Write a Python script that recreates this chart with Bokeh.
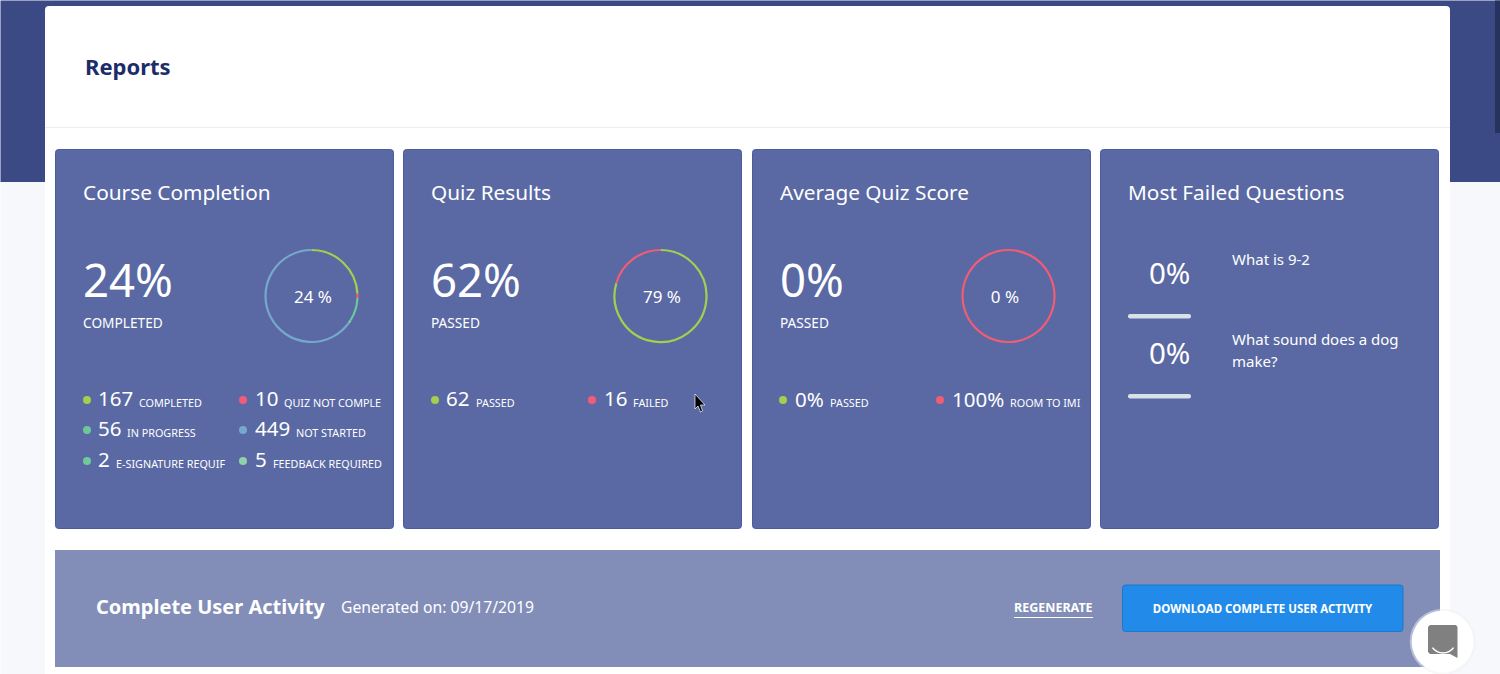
from math import pi

from bokeh.core.properties import value
from bokeh.embed import file_html
from bokeh.models import Range1d
from bokeh.plotting import figure
from bokeh.resources import INLINE

# data
card_titles = ["Course Completion", "Quiz Results", "Average Quiz Score", "Most Failed Questions"]
big_values = ["24%", "62%", "0%"]
big_captions = ["COMPLETED", "PASSED", "PASSED"]
ring_labels = ["24 %", "79 %", "0 %"]

course_counts = [167, 10, 56, 2, 5, 449]
course_names = ["COMPLETED", "QUIZ NOT COMPLE", "IN PROGRESS", "E-SIGNATURE REQUIF", "FEEDBACK REQUIRED", "NOT STARTED"]
quiz_counts = [62, 16]
quiz_names = ["PASSED", "FAILED"]
score_counts = [0, 100]
score_names = ["PASSED", "ROOM TO IMI"]

failed_values = ["0%", "0%"]
failed_questions = [["What is 9-2"], ["What sound does a dog", "make?"]]

# colours
GREEN, RED, TEAL, TEAL2, MINT, BLUE = "#a2d04e", "#f25c75", "#6cc79a", "#70c99c", "#8dd2a9", "#75a9cc"
course_colors = [GREEN, RED, TEAL, TEAL2, MINT, BLUE]
result_colors = [GREEN, RED]
CARD, CARD_EDGE = "#5a69a3", "#4a5ba0"
TXT = "#ffffff"
FONT = value("Noto Sans")

# page pixels are used as plot units, y is flipped by Y()
H = 674
def Y(py):
    return H - py

p = figure(
    width=1500, height=674, x_range=Range1d(0.5, 1500.5), y_range=Range1d(-0.5, H - 0.5),
    output_backend="svg", toolbar_location=None, min_border=0, outline_line_color=None,
    background_fill_color="#f7f8fb", border_fill_color=None,
)
p.axis.visible = False
p.grid.visible = False


def label(x, y, txt, size, color=TXT, style="normal", align="left"):
    # middle baseline lands about 1px low for this font
    p.text([x], [Y(y - 1)], text=[txt], text_font=FONT, text_font_size=f"{size}px", text_color=color,
           text_font_style=style, text_align=align, text_baseline="middle")


def box(x0, x1, y0, y1, fill, edge=None, radius=0):
    p.quad(left=[x0], right=[x1], top=[Y(y0)], bottom=[Y(y1)], fill_color=fill,
           line_color=edge, border_radius=radius)


def ring(cx, values, colors):
    total = sum(values)
    start = pi / 2
    for v, c in zip(values, colors):
        if v == 0:
            continue
        # a full turn would collapse to nothing, so stop just short of it
        end = start - min(2 * pi * v / total, 2 * pi - 0.001)
        p.arc([cx], [Y(296)], radius=46, start_angle=start, end_angle=end, direction="clock",
              line_color=c, line_width=2.2)
        start = end


def legend_entry(dot_x, val_x, txt_x, y, val, name, color):
    p.scatter([dot_x], [Y(y)], size=8, marker="circle", fill_color=color, line_color=None)
    label(val_x, y, val, 20.5)
    label(txt_x, y + 3, name, 10.8)


# page background
box(0, 1502, -2, 182, "#3b4a84")
box(1495, 1502, -2, 133, "#26335f")
box(45, 1450, 6, 690, "#ffffff", None, 4)
p.line([45, 1450], [Y(127.5), Y(127.5)], line_color="#eceef2", line_width=1)
label(85, 67, "Reports", 22, color="#1b2c6b", style="bold")

# cards
card_left = [55, 403, 752, 1100]
for x0, title in zip(card_left, card_titles):
    box(x0 + 0.5, x0 + 338.5, 149.5, 528.5, CARD, CARD_EDGE, 3)
    label(x0 + 28, 192.5, title, 20.8)

for x0, v, cap in zip(card_left, big_values, big_captions):
    label(x0 + 28, 280, v, 45.5)
    label(x0 + 28, 323, cap, 13.7)

ring(311.5, course_counts, course_colors)
ring(660.5, quiz_counts, result_colors)
ring(1008.5, score_counts, result_colors)
for cx, txt in zip([313, 662, 1005], ring_labels):
    label(cx, 297, txt, 17, align="center")

# legends
course_order = [0, 2, 3, 1, 5, 4]
course_dots = [(87, 98, 139, 400), (87, 98, 127, 430), (87, 98, 116, 461),
               (243, 255, 284, 400), (243, 255, 296, 430), (243, 255, 273, 461)]
for i, (dx, vx, tx, y) in zip(course_order, course_dots):
    legend_entry(dx, vx, tx, y, str(course_counts[i]), course_names[i], course_colors[i])

legend_entry(435, 446, 476, 400, str(quiz_counts[0]), quiz_names[0], GREEN)
legend_entry(592, 604, 633, 400, str(quiz_counts[1]), quiz_names[1], RED)
legend_entry(783, 795, 830, 400, f"{score_counts[0]}%", score_names[0], GREEN)
legend_entry(940, 952, 1010, 400, f"{score_counts[1]}%", score_names[1], RED)

# most failed
for v, lines, mid in zip(failed_values, failed_questions, [273, 353]):
    label(1149, mid, v, 29.5)
    box(1128, 1191, mid + 41, mid + 45.5, "#d8e2e8", None, 2)
    for j, line in enumerate(lines):
        label(1232, mid - 13 + j * 22, line, 15)

# activity banner
box(55, 1440, 550, 667, "#828eb8")
label(96, 607, "Complete User Activity", 20, style="bold")
label(341, 608, "Generated on: 09/17/2019", 15.7)
label(1014, 608, "REGENERATE", 12.5, style="bold")
p.line([1014, 1093], [Y(617.5), Y(617.5)], line_color="#ffffff", line_width=1.2)
box(1122.5, 1403, 585, 631.5, "#228be9", "#1b78cc", 3)
label(1262.5, 609, "DOWNLOAD COMPLETE USER ACTIVITY", 11.5, style="bold", align="center")

# mouse pointer
p.patch([695, 695, 698, 700.5, 702.5, 700.5, 705],
        [Y(394), Y(409), Y(406), Y(412), Y(411), Y(405), Y(405)],
        fill_color="#000000", line_color="#ffffff", line_width=0.7)

# chat bubble
p.scatter([1442.7], [Y(641.7)], size=66, marker="circle", fill_color="#f0f0f3", fill_alpha=0.5, line_color=None)
p.scatter([1442.7], [Y(641.7)], size=62, marker="circle", fill_color="#ffffff", line_color=None)
p.patch([1430, 1456, 1457.5, 1457.5, 1450, 1430, 1428, 1428],
        [Y(625), Y(625), Y(627), Y(658), Y(654), Y(654), Y(652), Y(627)],
        fill_color="#808080", line_color=None)
p.arc([1443], [Y(640)], radius=13, start_angle=-pi * 0.8, end_angle=-pi * 0.2, direction="anticlock",
      line_color="#ffffff", line_width=1.6)

open("out.html", "w").write(file_html(p, INLINE))
